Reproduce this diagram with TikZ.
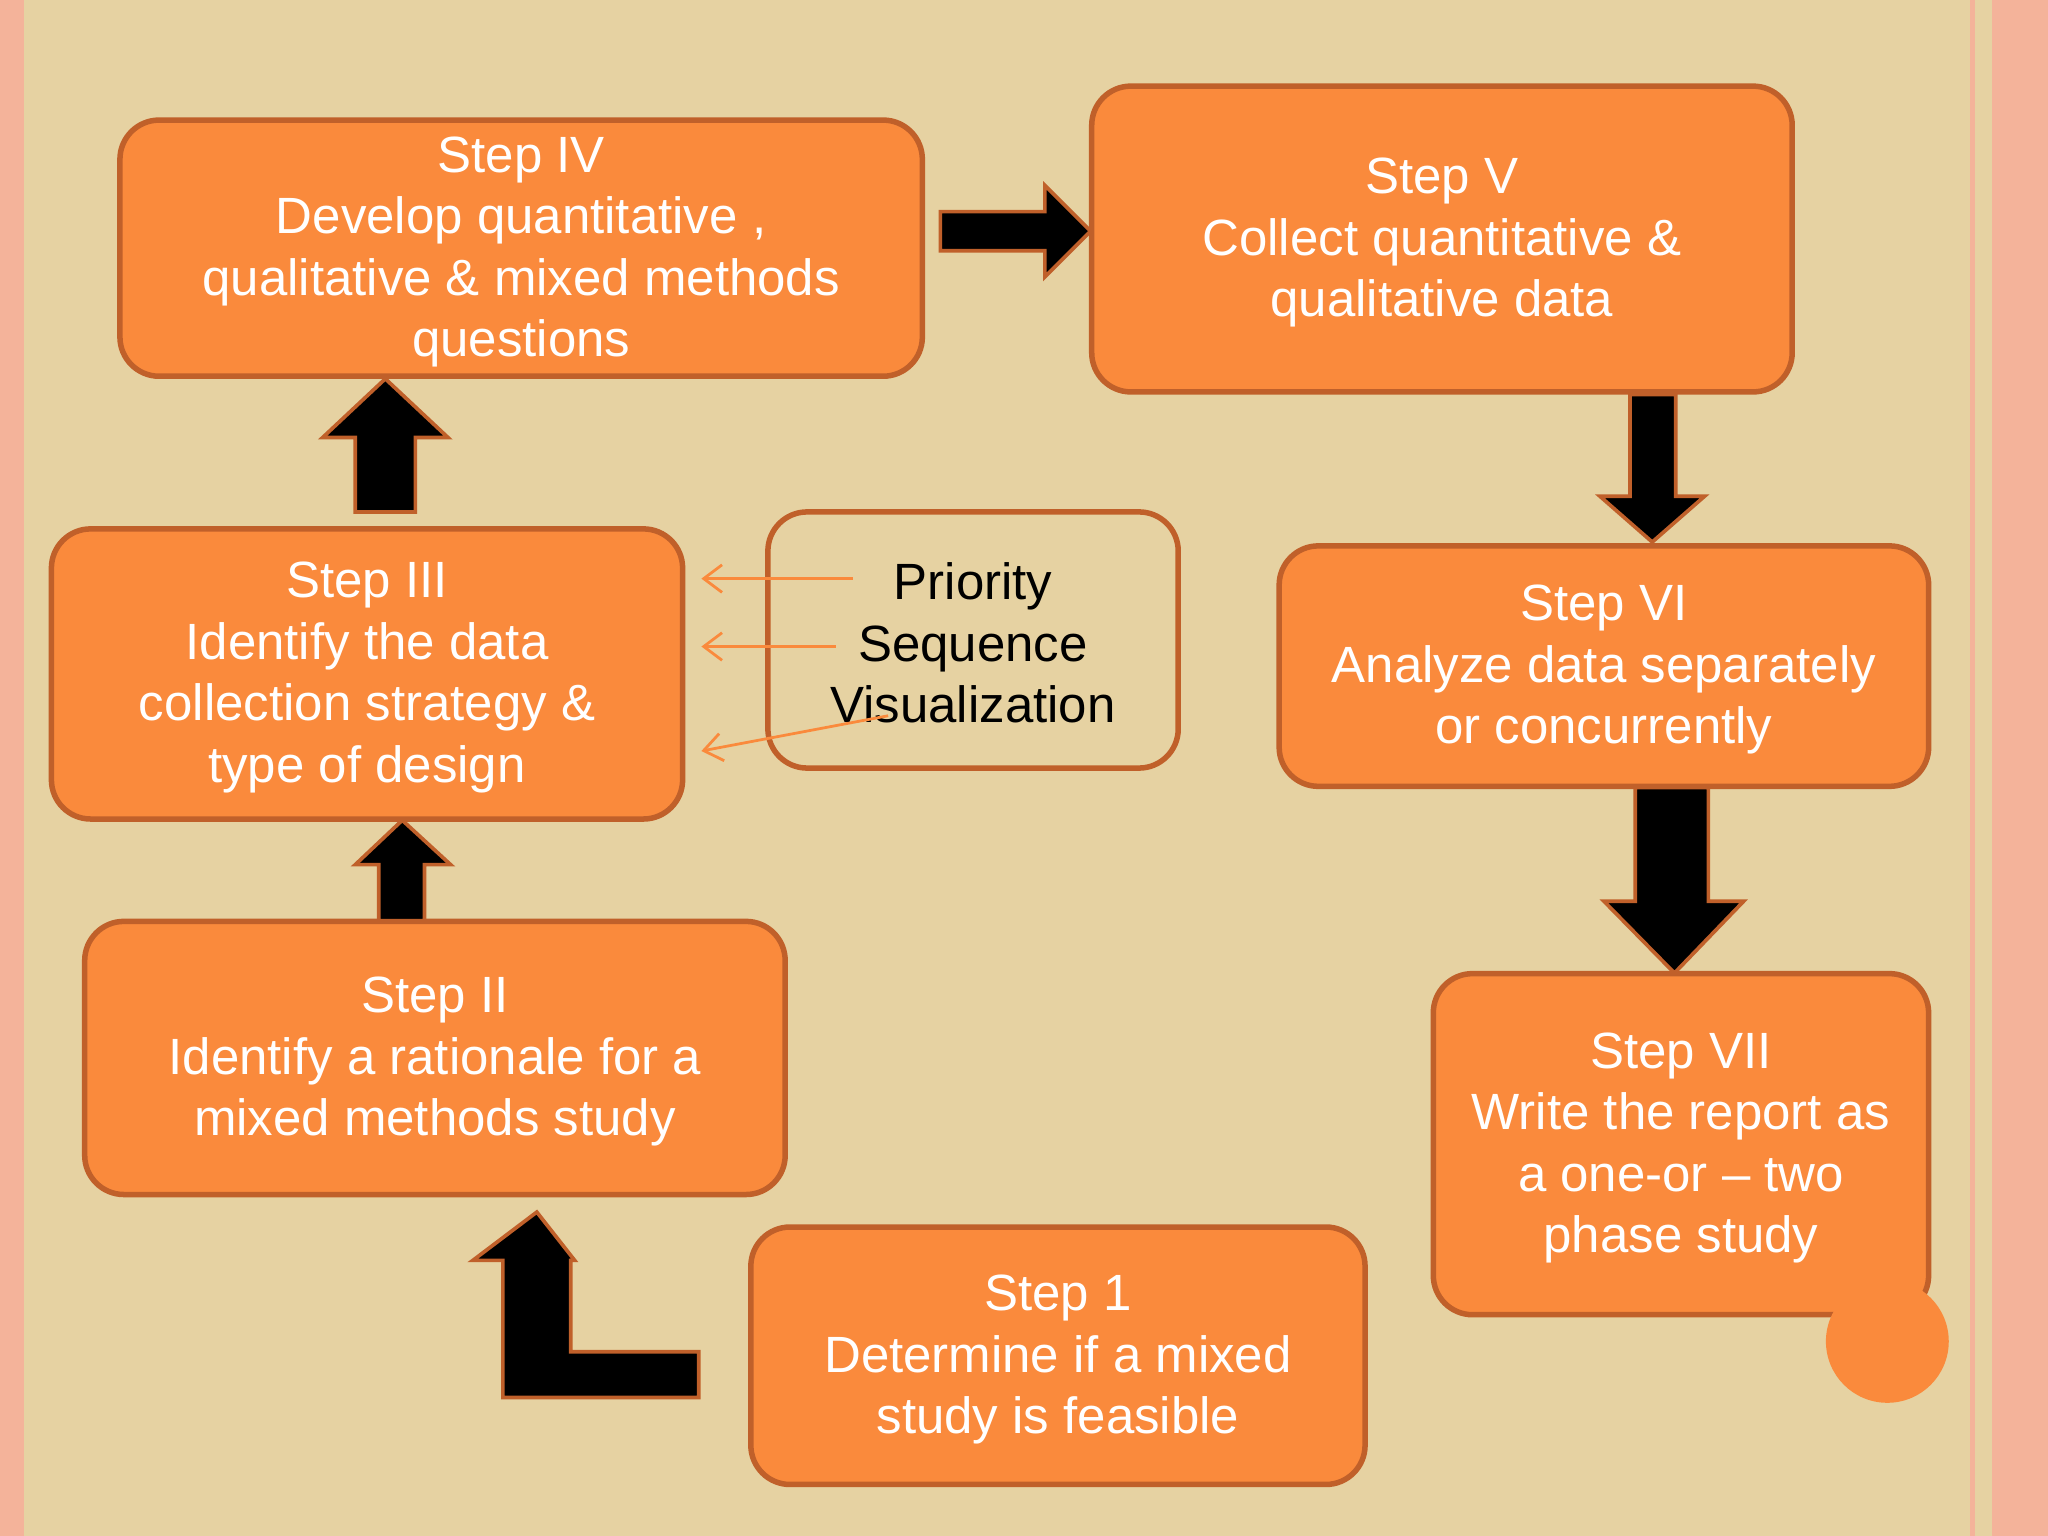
\documentclass[tikz,border=0pt]{standalone}
\usepackage{fontspec}
\setmainfont{Liberation Sans}
\usetikzlibrary{arrows.meta}
\definecolor{bg}{HTML}{E6D2A2}
\definecolor{boxf}{HTML}{FA8A3C}
\definecolor{boxd}{HTML}{C0602A}
\definecolor{pinkb}{HTML}{F4B39A}
\tikzset{
 stepbox/.style={draw=boxd,fill=boxf,line width=1.2pt,rounded corners=0.3cm,align=center,text=white,font=\fontsize{11.1}{13.4}\selectfont,inner sep=0pt},
 blk/.style={fill=black,draw=boxd,line width=0.8pt,line join=miter},
 thin/.style={draw=boxf,line width=0.6pt,-{Straight Barb[length=4pt,width=6pt]}}
}
\begin{document}
\begin{tikzpicture}[x=0.01cm,y=-0.01cm]
\useasboundingbox (0,0) rectangle (1568,1176);
\fill[bg] (0,0) rectangle (1568,1176);
\fill[pinkb] (0,0) rectangle (18,1176);
\fill[pinkb] (1525,0) rectangle (1568,1176);
\draw[pinkb,line width=1pt] (1510,0) -- (1510,1176);
% boxes
\node[stepbox,minimum width=6.14cm,minimum height=1.96cm] (s4) at (399,190) {\strut Step IV\\Develop quantitative ,\\qualitative \& mixed methods\\questions};
\node[stepbox,minimum width=5.36cm,minimum height=2.34cm] (s5) at (1104,183) {\strut Step V\\Collect quantitative \&\\qualitative data};
\node[stepbox,minimum width=4.83cm,minimum height=2.22cm] (s3) at (281,516) {\strut Step III\\Identify the data\\collection strategy \&\\type of design};
\node[draw=boxd,line width=1.2pt,rounded corners=0.3cm,align=center,font=\fontsize{11.1}{13.4}\selectfont,minimum width=3.14cm,minimum height=1.96cm,inner sep=0pt] (pr) at (745,490) {\strut Priority\\Sequence\\Visualization};
\node[stepbox,minimum width=4.97cm,minimum height=1.84cm] (s6) at (1228,510) {\strut Step VI\\Analyze data separately\\or concurrently};
\node[stepbox,minimum width=5.36cm,minimum height=2.09cm] (s2) at (333,810) {\strut Step II\\Identify a rationale for a\\mixed methods study};
\node[stepbox,minimum width=4.70cm,minimum height=1.97cm] (s1) at (810,1038) {\strut Step 1\\Determine if a mixed\\study is feasible};
\node[stepbox,minimum width=3.79cm,minimum height=2.61cm] (s7) at (1287,876) {\strut Step VII\\Write the report as\\a one-or -- two\\phase study};
\fill[boxf] (1445,1027) circle (0.47cm);
% block arrows
\draw[blk] (720,162) -- (800,162) -- (800,142) -- (835,177) -- (800,212) -- (800,192) -- (720,192) -- cycle;
\draw[blk] (1248,302) -- (1283,302) -- (1283,380) -- (1305,380) -- (1265,415) -- (1225,380) -- (1248,380) -- cycle;
\draw[blk] (1252,603) -- (1308,603) -- (1308,690) -- (1335,690) -- (1282,745) -- (1228,690) -- (1252,690) -- cycle;
\draw[blk] (272,392) -- (318,392) -- (318,335) -- (343,335) -- (295,290) -- (247,335) -- (272,335) -- cycle;
\draw[blk] (290,705) -- (325,705) -- (325,662) -- (345,662) -- (308,628) -- (272,662) -- (290,662) -- cycle;
\draw[blk] (535,1035) -- (535,1070) -- (385,1070) -- (385,965) -- (362,965) -- (411,928) -- (440,965) -- (437,965) -- (437,1035) -- cycle;
% thin arrows
\coordinate (p1) at (653,443); \coordinate (p2) at (640,495); \coordinate (p3) at (680,548);
\coordinate (q1) at (537,443); \coordinate (q2) at (537,495); \coordinate (q3) at (537,575);
\draw[thin] (p1) -- (q1);
\draw[thin] (p2) -- (q2);
\draw[thin] (p3) -- (q3);
\end{tikzpicture}
\end{document}
